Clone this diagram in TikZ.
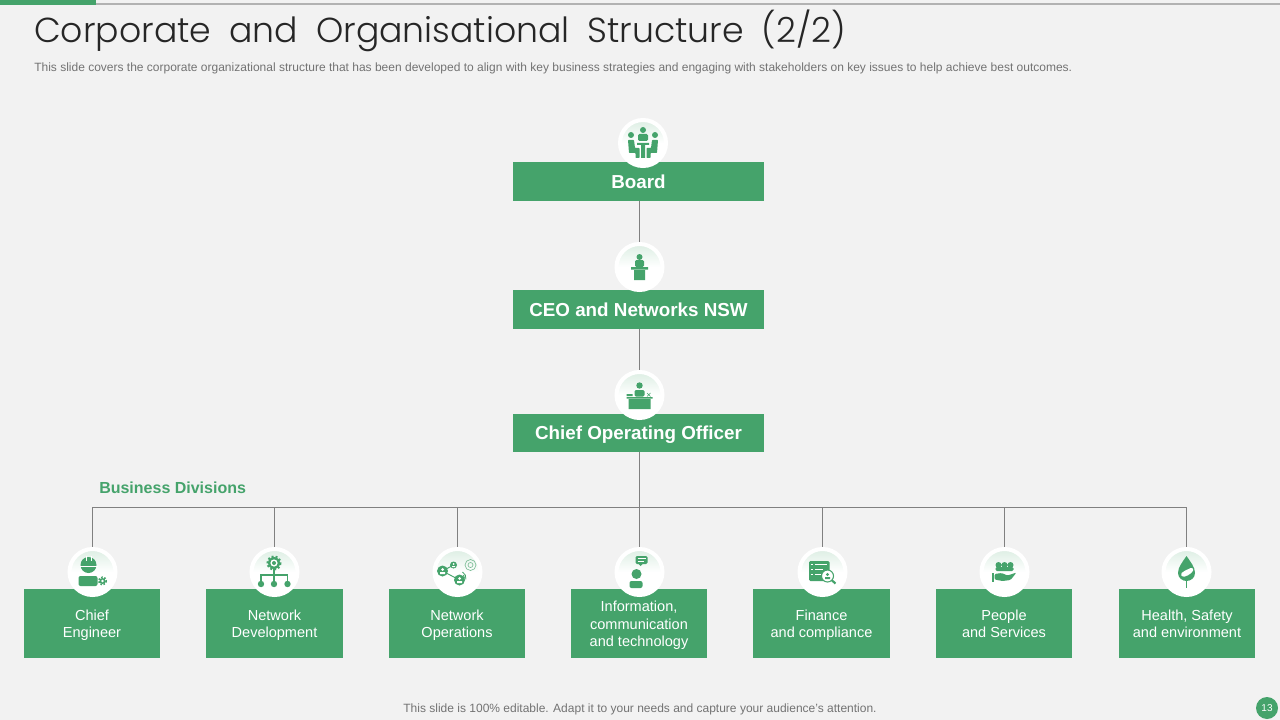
\documentclass[tikz,border=0pt]{standalone}
\usepackage{fontspec}
\setmainfont{Liberation Sans}
\newfontfamily\titlefont[UprightFont=* Light,WordSpace=1.9]{Poppins}
\usetikzlibrary{positioning,shadows}
\definecolor{slidegreen}{HTML}{45A36B}
\definecolor{slidebg}{HTML}{F2F2F2}
\definecolor{paletint}{HTML}{DCEEE3}
\tikzset{
    headbox/.style={fill=slidegreen,text=white,minimum width=188pt,minimum height=29pt,inner sep=0pt,outer sep=0pt,
        text height=12pt,text depth=1.8pt,font=\fontsize{14.1}{17}\selectfont\bfseries},
    divbox/.style={fill=slidegreen,minimum width=102.4pt,minimum height=51.5pt,inner sep=0pt,outer sep=0pt},
    divtext/.style={text=white,inner sep=0pt,align=center,font=\fontsize{10.9}{13.1}\selectfont,
        execute at begin node=\strut,execute at end node=\strut},
    icondisc/.style={circle,minimum size=34.5pt,inner sep=0pt,outer sep=1.5pt,draw=white,line width=3pt,
        top color=paletint,bottom color=white,middle color=white,drop shadow={opacity=.1,shadow xshift=0pt,shadow yshift=-.8pt}},
    linkline/.style={draw=black!50,line width=.7pt},
    glyph/.style={fill=slidegreen,draw=none},
    notch/.style={draw=white,line width=.6pt},
}
\newcommand{\glyphboard}{
    \fill[glyph] (0,-13) circle (3) (-12,-8) circle (3) (12,-8) circle (3);
    \fill[glyph,rounded corners=1pt] (-5,-2) rectangle (5,-9);
    \fill[glyph] (-6,0) rectangle (6,2) (-2,2) rectangle (2,15);
    \fill[glyph,rounded corners=.5pt] (-15,-3) -- (-9,-3) -- (-8,5) -- (-3.5,5) -- (-3.5,15) -- (-7.5,15) -- (-7.5,10) -- (-14,10) -- cycle;
    \fill[glyph,rounded corners=.5pt] (15,-3) -- (9,-3) -- (8,5) -- (3.5,5) -- (3.5,15) -- (7.5,15) -- (7.5,10) -- (14,10) -- cycle;
}
\newcommand{\glyphceo}{
    \fill[glyph] (0,-10) circle (3);
    \fill[glyph,rounded corners=1pt] (-4.5,0) rectangle (4.5,-7);
    \fill[glyph] (-8.5,0) rectangle (8.5,2.5) (-5.5,3) rectangle (5.5,13);
}
\newcommand{\glyphcoo}{
    \fill[glyph] (0,-9.5) circle (3.2);
    \fill[glyph,rounded corners=1pt] (-5,1.5) rectangle (5,-5);
    \fill[glyph] (-13,2) rectangle (13,3.5) (-11,4) rectangle (11,14) (-13,-1) rectangle (-7,1);
    \draw[slidegreen,line width=.4pt] (7.5,-2) -- (11,1.5) (11,-2) -- (7.5,1.5);
}
\newcommand{\glyphengineer}{
    \fill[glyph] (-4,-7) circle (8);
    \draw[notch] (-13,-6) -- (5,-6) (-6.5,-16) -- (-6.5,-11) (-1.5,-16) -- (-1.5,-11);
    \fill[glyph,rounded corners=1.5pt] (-14,14) rectangle (5,4);
    \fill[glyph] (10,9) circle (3);
    \draw[slidegreen,line width=1.2pt,dash pattern=on 1.2pt off 1.2pt] (10,9) circle (3.8);
    \fill[white] (10,9) circle (1.3);
}
\newcommand{\glyphnetdev}{
    \draw[slidegreen,line width=1.5pt,dash pattern=on 1.5pt off 1.5pt] (-.5,-9) circle (6.5);
    \fill[glyph] (-.5,-9) circle (6);
    \fill[white] (-.5,-9) circle (3.6);
    \fill[glyph] (-.5,-9) circle (2);
    \draw[slidegreen,line width=.8pt] (-.5,-3) -- (-.5,11) (-13.5,11) -- (-13.5,3) -- (13,3) -- (13,11);
    \fill[glyph] (-13.5,12) circle (3.2) (-.5,12) circle (3.2) (13,12) circle (3.2);
}
\newcommand{\glyphnetops}{
    \draw[slidegreen,line width=.7pt] (-15,-1) -- (2,8) (-15,-1) -- (-4,-7);
    \fill[glyph] (-15,-1) circle (5.5) (-4,-7) circle (3.5) (2,8) circle (5.5);
    \fill[white] (-15,-2.5) circle (1.5) (-4,-8) circle (1) (2,6.5) circle (1.5);
    \fill[white] (-17.5,2) rectangle (-12.5,.2) (-5.5,-5) rectangle (-2.5,-6) (-.5,11) rectangle (4.5,9.2);
    \draw[slidegreen,line width=.6pt] (6,3) arc (-45:10:4) (5,0) arc (-60:10:7);
    \draw[slidegreen!70,line width=.5pt] (13,-7) circle (5.5) (13,-7) circle (2.5);
}
\newcommand{\glyphinfo}{
    \fill[glyph] (-3,2) circle (5);
    \fill[glyph,rounded corners=1.5pt] (-10,16) rectangle (3,9);
    \fill[glyph,rounded corners=1pt] (-4,-16) rectangle (8,-8);
    \fill[glyph] (-1,-8) -- (3,-8) -- (1,-6) -- cycle;
    \draw[notch] (-2,-13.5) -- (6,-13.5) (-2,-11) -- (4,-11);
}
\newcommand{\glyphfinance}{
    \fill[glyph,rounded corners=1pt] (-13.5,-11) rectangle (7,9);
    \draw[notch] (-8,-7.5) -- (4,-7.5) (-8,-2.5) -- (0,-2.5) (-8,2.5) -- (-2,2.5);
    \draw[notch] (-12,-7.5) -- (-10,-7.5) (-12,-2.5) -- (-10,-2.5) (-12,2.5) -- (-10,2.5);
    \draw[slidegreen,line width=1.6pt] (9,8) -- (13,11.5);
    \filldraw[fill=white,draw=slidegreen,line width=.8pt] (5,4) circle (6);
    \fill[glyph] (5,2.5) circle (1.6) (2.5,7) rectangle (7.5,5);
}
\newcommand{\glyphpeople}{
    \fill[glyph] (-6,-7) circle (3) (0,-7) circle (3) (6,-7) circle (3);
    \fill[glyph,rounded corners=1pt] (-9,-1) rectangle (9,-5);
    \fill[glyph] (-13,1) rectangle (-10.5,9.5);
    \fill[glyph,rounded corners=1pt] (-10,2) -- (-3,1) -- (3,3.5) -- (12,.5) -- (6,8) -- (-2,9) -- (-10,7.5) -- cycle;
}
\newcommand{\glyphhealth}{
    \fill[glyph] (0,-16) .. controls (4,-10) and (8.5,-5) .. (8.5,1) .. controls (8.5,6) and (4,9) .. (0,9) .. controls (-4,9) and (-8.5,6) .. (-8.5,1) .. controls (-8.5,-5) and (-4,-10) .. (0,-16) -- cycle;
    \draw[slidegreen,line width=.8pt] (0,9) -- (0,16);
    \fill[white,rounded corners=1.5pt] (-6,4) -- (-4,-1) -- (0,-1) -- (2,-4) -- (7,-4) -- (6,1) -- (2,2) -- (0,5) -- cycle;
}
\begin{document}
\begin{tikzpicture}[x=.75pt,y=-.75pt]
    \useasboundingbox (0,0) rectangle (1280,720);
    \fill[slidebg] (0,0) rectangle (1280,720);
    \fill[black!30] (96,3.5) rectangle (1280,5);
    \fill[slidegreen] (0,0) rectangle (96,5.5);

    \node[anchor=base west,inner sep=0pt,text=black!85] (slidetitle) at (34,43)
        {\titlefont\fontsize{26}{30}\selectfont Corporate and Organisational Structure (2/2)};
    \node[anchor=base west,inner sep=0pt,text=black!55,font=\fontsize{9}{11}\selectfont] (slidenote) at (34,72)
        {This slide covers the corporate organizational structure that has been developed to align with key business strategies and engaging with stakeholders on key issues to help achieve best outcomes.};

    \node[headbox] (board) at (638.5,181.5) {Board};
    \node[headbox,below=96pt of board.center,anchor=center] (ceo) {CEO and Networks NSW};
    \node[headbox,below=92.6pt of ceo.center,anchor=center] (coo) {Chief Operating Officer};

    \node[icondisc] (boardicon) at (643,143) {};
    \node[icondisc] (ceoicon) at (639.5,267) {};
    \node[icondisc] (cooicon) at (639.5,395) {};
    \draw[linkline] (ceoicon |- board.south) -- (ceoicon);
    \draw[linkline] (cooicon |- ceo.south) -- (cooicon);

    \coordinate (bus) at (639.5,507);
    \foreach \name/\boxx/\iconx/\lbl in {
        engineer/92/92.5/{Chief\\Engineer},
        netdev/274.5/274.5/{Network\\Development},
        netops/457/457.5/{Network\\Operations},
        info/639/639.5/{Information,\\communication\\and technology},
        finance/821.5/822.5/{Finance\\and compliance},
        people/1004/1004.5/{People\\and Services},
        health/1187/1186.5/{Health, Safety\\and environment}} {
        \node[divbox] (\name) at (\boxx,623.5) {};
        \node[divtext] (\name text) at ([yshift=-2.2pt]\name.center) {\lbl};
        \node[icondisc] (\name icon) at (\iconx,572) {};
        \draw[linkline] (bus) -| (\name icon);
    }
    \draw[linkline] (cooicon |- coo.south) -- (infoicon);

    \node[anchor=base west,inner sep=0pt,text=slidegreen,font=\fontsize{12}{14}\selectfont\bfseries] (divlabel) at (99,493) {Business Divisions};

    \foreach \name/\glyph in {boardicon/\glyphboard,ceoicon/\glyphceo,cooicon/\glyphcoo,
        engineericon/\glyphengineer,netdevicon/\glyphnetdev,netopsicon/\glyphnetops,
        infoicon/\glyphinfo,financeicon/\glyphfinance,peopleicon/\glyphpeople,healthicon/\glyphhealth} {
        \begin{scope}[shift={(\name.center)}]
            \glyph
        \end{scope}
    }

    \node[anchor=base,inner sep=0pt,text=black!55,font=\fontsize{9}{11}\selectfont] (slidefoot) at (640,712)
        {This slide is 100\% editable. Adapt it to your needs and capture your audience's attention.};
    \node[circle,fill=slidegreen,text=white,minimum size=16.5pt,inner sep=0pt,font=\fontsize{7.5}{9}\selectfont] (pagenum) at (1267,708) {13};
\end{tikzpicture}
\end{document}
